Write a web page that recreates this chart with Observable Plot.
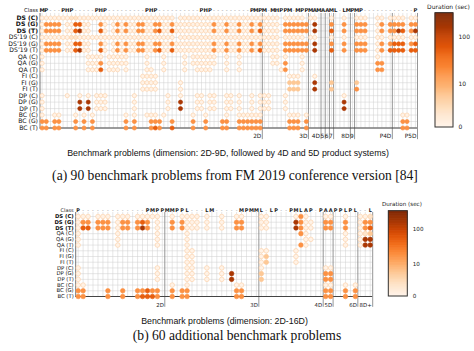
<!DOCTYPE html>
<html><head><meta charset="utf-8">
<script src="https://cdn.jsdelivr.net/npm/d3@7"></script>
<script src="https://cdn.jsdelivr.net/npm/@observablehq/plot@0.6"></script>
<style>
body{margin:0;background:#fff;}
#page{position:relative;width:474px;height:351px;overflow:hidden;background:#fff;}
#page svg{position:absolute;}
.cap{position:absolute;white-space:nowrap;transform:translateX(-50%);color:#111;}
</style></head><body><div id="page"></div>
<script>
// ---------- data: panel (a), 90 problems ----------
const rowsA = ["DS (C)","DS (G)","DS (T)","DS’19 (C)","DS’19 (G)","DS’19 (T)","QA (C)","QA (G)","QA (T)","FI (C)","FI (G)","FI (T)","DP (C)","DP (G)","DP (T)","BC (C)","BC (G)","BC (T)"];
const headerA = "MP---PHP--|---PHP----|-----PHP--|--------PH|P---------|PMPM-MHPPM|-MPPMAMAAM|L-LMPMP---|---------P";
// duration levels per cell: '.' none, '0' ~0s ... '6' longest
const gridA = [
"0000000110|0000000000|0000000000|00.0000000|0000000000|0000000.00|000.00...0|..0..000..|00.0000.00",
"03333.0044|00..30.030|3003300330|0300000000|0300300300|3030000.33|3333.5...3|..3..333..|03.3333.33",
"03333.0045|00..40.030|3003300340|0400000000|0300300300|3040000.33|3333.5...4|..3..333..|03.3354.35",
"0000000110|0000000000|0000000000|00.0000000|0000000000|0000000.00|000.00...0|..0..000..|00.0000.00",
"03333.0044|00..30.030|3003300330|0300000000|0300300300|3030000.33|3333.5...3|..3..333..|03.3444.34",
"03333.0045|00..40.030|3003300340|0400000000|0300300300|3040000.33|3333.5...4|..3..333..|03.4444.44",
"0.........|.0000.0000|0....0...0|....0.0000|00..0..0..|.....00.0.|..0.......|..........|0.........",
"0.........|.0003.0000|0....0...0|....0.0000|00..0..0..|.....00.3.|..0.......|..........|33........",
"0.........|.0004.000.|0....00..0|....0..000|0...0..0..|.......03.|..0.......|..........|33........",
"..........|..........|....0000..|..........|..........|.........0|00...0....|..........|..........",
"..........|..........|....0000..|...0......|..........|.........2|22...5...2|.....2....|..........",
"..........|..........|....0000..|...0......|..........|.........2|22...5...2|.....3....|..........",
"0.....0..0|.0.000....|..0.......|0..0...00.|00..00.0..|0.000...0.|..........|..0.......|..........",
"0........5|.5.000....|..0.......|0..5...00.|00..00.0..|0.000...0.|..........|..5.......|..........",
"0........5|.5.000....|..0.......|0..5...00.|00..00.0..|0.000...0.|..........|..5.......|..........",
"0..00...0.|0.0.......|0.0..000.0|......0..0|....0..000|000......0|00.0......|..........|......00..",
"33.33...3.|3.3.......|3.3...333.|.3....3..3|...33..333|333......3|33.3......|..........|......33..",
"33.33...3.|3.3.......|3.3...343.|.4....3..3|...33..333|333......3|33.3......|..........|......33.."
];
const boundsA = [52.5, 63.5, 66.5, 67.5, 68.5, 69.5, 73.5, 74.5, 83.5, 89.5];
const dimLabelsA = ["2D","3D","4D","5","6","7","8D","9","P4D","P5D"];

// ---------- data: panel (b), 60 problems ----------
const rowsB = ["DS (C)","DS (G)","DS (T)","QA (C)","QA (G)","QA (T)","FI (C)","FI (G)","FI (T)","DP (C)","DP (G)","DP (T)","BC (C)","BC (G)","BC (T)"];
const headerB = "P---------|----PMPPMM|PPL---LM--|---MPMML-L|P--PMLAP-P|AAPPLPL--L";
const gridB = [
"000.000.00|0.00000..0|.0000.0..0|..00...00.|....030...|00..0..001",
"033.333.03|3.343.0..3|.3000.0..0|..33...00.|....5300..|33..3..033",
"044.333.03|3.353.0..3|.3000.0..0|..33...00.|....5300..|33..3..034",
"0.......0.|......0...|..0.......|..........|.....30...|....0..012",
"0.......0.|......0...|..0.......|..........|......00..|....0..055",
"0.......0.|......0...|..0.......|..........|.....30...|....0..055",
"..........|..........|..00......|.......00.|....0.....|..........",
"..........|..........|..00......|.......02.|....0.....|..........",
"..........|..........|..00......|.......02.|....0.....|..........",
"0.........|......0...|..00..0..0|.......0..|..........|00........",
"0.........|......0...|..00..0..0|.5.....2..|..........|33........",
"0.........|......0...|..00..0..0|.5.....2..|..........|33........",
"00........|.........0|..0.......|..00......|..........|00..0.0...",
"33....3..3|..33433..3|.33.......|..33......|..........|33..3.3...",
"33....3..3|..34443..3|.33.......|..33......|..........|33..3.3..."
];
const boundsB = [17.5, 36.5, 49.5, 51.5, 56.5, 59.5];
const dimLabelsB = ["2D","3D","4D","5D","6D","8D+"];

// duration (sec) represented by each level code
const levelCodes = ["0","1","2","3","4","5","6"];
const levelSeconds = [0.2, 1.5, 5, 18, 50, 150, 280];
const legendTicks = [0, 10, 100];

const levels = Object.fromEntries(levelCodes.map((c,i)=>[c, levelSeconds[i]]));
const colorOpts = {type:"symlog", constant:1.5, domain:[0,300], scheme:"oranges"};
const page = document.getElementById("page");

function place(el, left, top){ el.style.left = left+"px"; el.style.top = top+"px"; page.appendChild(el); }

function panel(cfg){
  const {rows, header, grid, bounds, dimLabels, x0, x1, y0, y1, top, width, height, radius,
         fsRow, fsHead, fsDim, labY, tickY, headY, gridTop} = cfg;
  const hs = header.replace(/\|/g,"");
  const N = hs.length, R = rows.length;
  const head = hs.split("").map((ch,i)=>({ch,i}));
  const cells = [];
  grid.forEach((s,r)=> s.replace(/\|/g,"").slice(0,N).split("").forEach((ch,c)=>{ if (ch in levels) cells.push({r,c,v:levels[ch]}); }));
  const rowData = rows.map((name,r)=>({name, r, bold: name.startsWith("DS (")}));
  const dims = bounds.map((b,i)=>({b, t: dimLabels[i]}));
  return Plot.plot({
    width, height, margin:0,
    style:{background:"transparent", fontFamily:"DejaVu Sans, sans-serif", overflow:"visible"},
    x:{type:"linear", domain:[-0.5, N-0.5], range:[x0, x1], axis:null},
    y:{type:"linear", domain:[0, R-1], range:[y0-top, y1-top], axis:null},
    color: colorOpts,
    marks:[
      Plot.ruleX(d3.range(N), {y1:gridTop, y2:R-1, stroke:"#cfcfcf", strokeWidth:0.5}),
      Plot.ruleY(d3.range(R), {x1:-0.5, x2:N-0.5, stroke:"#cfcfcf", strokeWidth:0.5}),
      Plot.ruleX(dims, {x:"b", y1:gridTop, y2:tickY, stroke:"#8a8a8a", strokeWidth:0.9}),
      Plot.ruleX([-0.5], {y1:gridTop, y2:R-1, stroke:"#666", strokeWidth:0.9}),
      Plot.ruleY([R-1], {x1:-0.5, x2:N-0.5, stroke:"#444", strokeWidth:1}),
      Plot.dot(cells, {x:"c", y:"r", r:radius, fill:"v", stroke:d=>Math.max(d.v,4), strokeWidth:0.6}),
      Plot.text(dims, {x:"b", y:labY, text:"t", textAnchor:"end", dx:-1, fontSize:fsDim, fill:"#222"}),
      Plot.text(rowData.filter(d=>d.bold), {x:-0.5, y:"r", text:"name", textAnchor:"end", dx:-2, fontSize:fsRow, fontWeight:"bold", fill:"#111"}),
      Plot.text(rowData.filter(d=>!d.bold), {x:-0.5, y:"r", text:"name", textAnchor:"end", dx:-2, fontSize:fsRow, fill:"#111"}),
      Plot.text(["Class"], {x:-0.5, y:headY, text:d=>d, textAnchor:"end", dx:-2, fontSize:fsHead, fill:"#222"}),
      Plot.text(head.filter(d=>d.ch!=="-"), {x:"i", y:headY, text:"ch", fontSize:fsHead, fill:"#222", fontWeight:"bold"}),
      Plot.text(head.filter(d=>d.ch==="-"), {x:"i", y:headY, text:()=>"-", fontSize:fsHead, fill:"#888"})
    ]
  });
}

function legend(cfg){
  const {left, top, width, height, bx0, bx1, yTop, yBot, titleY, titleFrac, fs} = cfg;
  const L = Math.log(1 + 300/1.5), n = 120;
  const steps = d3.range(n).map(i=>{
    const a = 1.5*(Math.exp(i/n*L)-1), b = 1.5*(Math.exp((i+1)/n*L)-1);
    return {a, b, m:(a+b)/2};
  });
  return Plot.plot({
    width, height, margin:0,
    style:{background:"transparent", fontFamily:"DejaVu Sans, sans-serif", overflow:"visible"},
    x:{domain:[0,1], range:[bx0-left, bx1-left], axis:null},
    y:{type:"symlog", constant:1.5, domain:[0,300], range:[yBot-top, yTop-top], axis:null},
    color: colorOpts,
    marks:[
      Plot.rect(steps, {x1:0, x2:1, y1:"a", y2:"b", fill:"m", stroke:"m", strokeWidth:0.6}),
      Plot.rect([0], {x1:0, x2:1, y1:0, y2:300, fill:"none", stroke:"#333", strokeWidth:1}),
      Plot.text(legendTicks, {x:1, y:d=>d, text:d=>String(d), textAnchor:"start", dx:5, fontSize:fs, fill:"#222"}),
      Plot.text(["Duration (sec)"], {x:titleFrac, y:300, text:d=>d, dy:titleY-yTop, fontSize:fs, fill:"#222"})
    ]
  });
}

function cap(text, cx, cy, font, size){
  const d = document.createElement("div");
  d.className = "cap"; d.textContent = text;
  d.style.font = size+"px "+font; d.style.lineHeight = "1.2";
  place(d, cx, cy - size*0.6);
}

// panel (a)
place(panel({rows:rowsA, header:headerA, grid:gridA, bounds:boundsA, dimLabels:dimLabelsA,
  x0:39.5, x1:417, y0:17.5, y1:127.5, top:0, width:420, height:146, radius:2.1,
  fsRow:6.1, fsHead:5.3, fsDim:5.8, labY:18.3, tickY:18.8, headY:-1.15, gridTop:-0.7}), 0, 0);
place(legend({left:420, top:0, width:54, height:146, bx0:435, bx1:453, yTop:12.7, yBot:127,
  titleY:7, titleFrac:0.72, fs:6}), 420, 0);
cap("Benchmark problems (dimension: 2D-9D, followed by 4D and 5D product systems)", 228, 153.5, "'Liberation Sans', sans-serif", 8.8);
cap("(a) 90 benchmark problems from FM 2019 conference version [84]", 235, 176, "'Liberation Serif', serif", 13.6);

// panel (b)
place(panel({rows:rowsB, header:headerB, grid:gridB, bounds:boundsB, dimLabels:dimLabelsB,
  x0:75.2, x1:372.2, y0:216, y1:296, top:190, width:378, height:122, radius:2.3,
  fsRow:5.3, fsHead:5, fsDim:5.4, labY:15.55, tickY:15.9, headY:-1.15, gridTop:-0.7}), 0, 190);
place(legend({left:378, top:190, width:96, height:122, bx0:388.3, bx1:407.3, yTop:210.7, yBot:296,
  titleY:204, titleFrac:0.69, fs:5.6}), 378, 190);
cap("Benchmark problems (dimension: 2D-16D)", 224.5, 321, "'Liberation Sans', sans-serif", 8.8);
cap("(b) 60 additional benchmark problems", 237, 336, "'Liberation Serif', serif", 13.6);
</script></body></html>
